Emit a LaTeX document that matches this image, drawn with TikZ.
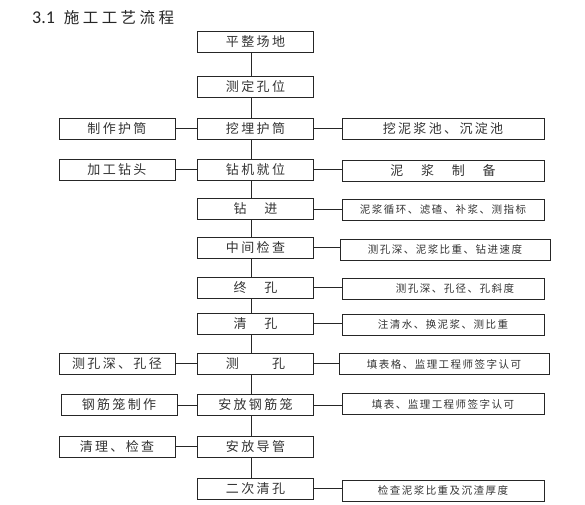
\documentclass[tikz,border=0pt]{standalone}
\usepackage{fontspec}
\setmainfont{Carlito}
\newfontfamily\cjk[LetterSpace=18]{Noto Sans CJK SC}
\newfontfamily\cjksm[LetterSpace=14]{Noto Sans CJK SC}
\newfontfamily\cjkwide[LetterSpace=22]{Noto Sans CJK SC}
\usetikzlibrary{calc}

\begin{document}
\begin{tikzpicture}[x=1pt, y=-1pt,
    box/.style={draw=black!85, line width=0.8pt, minimum height=21pt, inner sep=0pt, text=black!80},
    cbox/.style={box, minimum width=116pt, font=\cjk\fontsize{13}{13}\selectfont},
    rbox/.style={box, minimum width=202pt, font=\cjksm\fontsize{10.5}{10.5}\selectfont},
    rbig/.style={rbox, font=\cjk\fontsize{13}{13}\selectfont},
    link/.style={draw=black!85, line width=0.8pt}]
    \useasboundingbox (0,0) rectangle (585,504);

    % title
    \node (T) at (32,18) [anchor=west, inner sep=0pt, text=black!85] {\fontsize{18}{18}\selectfont 3.1\hspace{9pt}{\cjkwide\fontsize{15.5}{15.5}\selectfont 施工工艺流程}};

    % main column
    \node (M1) at (255.5,42) [cbox] {平整场地};
    \node (M2) at (255.5,87) [cbox] {测定孔位};
    \node (M3) at (255.5,128.5) [cbox] {挖埋护筒};
    \node (M4) at (255.5,169.5) [cbox] {钻机就位};
    \node (M5) at (255.5,209) [cbox] {钻　进};
    \node (M6) at (255.5,247.5) [cbox] {中间检查};
    \node (M7) at (255.5,287.5) [cbox] {终　孔};
    \node (M8) at (255.5,323.5) [cbox] {清　孔};
    \node (M9) at (255.5,363.5) [cbox] {测　　孔};
    \node (M10) at (255.5,405) [cbox] {安放钢筋笼};
    \node (M11) at (255.5,446.5) [cbox] {安放导管};
    \node (M12) at (255.5,488.5) [cbox] {二次清孔};

    % left column
    \node (L3) at (117,128.5) [cbox] {制作护筒};
    \node (L4) at (117,169.5) [cbox] {加工钻头};
    \node (L9) at (117,363.5) [cbox] {测孔深、孔径};
    \node (L10) at (119,405) [cbox] {钢筋笼制作};
    \node (L11) at (117,446.5) [cbox] {清理、检查};

    % right column
    \node (R3) at (443,128.5) [rbig] {挖泥浆池、沉淀池};
    \node (R4) at (443,170.5) [rbig] {泥　浆　制　备};
    \node (R5) at (443,209.5) [rbox] {泥浆循环、滤碴、补浆、测指标};
    \node (R6) at (445,249.5) [rbox, minimum width=210pt] {测孔深、泥浆比重、钻进速度};
    \node (R7) at (443,288.5) [rbox] {\hspace{24pt}测孔深、孔径、孔斜度};
    \node (R8) at (443,324.5) [rbox] {注清水、换泥浆、测比重};
    \node (R9) at (444,364) [rbox, minimum width=210pt] {填表格、监理工程师签字认可};
    \node (R10) at (443,404) [rbox] {填表、监理工程师签字认可};
    \node (R12) at (443,490.5) [rbox] {检查泥浆比重及沉渣厚度};

    % vertical links
    \foreach \a/\b in {M1/M2, M2/M3, M3/M4, M4/M5, M5/M6, M6/M7, M7/M8, M8/M9, M9/M10, M10/M11, M11/M12}
        \draw [link] ([xshift=-4pt]\a.south) -- ([xshift=-4pt]\b.north);

    % side links
    \foreach \a/\b in {L3/M3, L4/M4, L9/M9, L10/M10, L11/M11}
        \draw [link] (\a.east) -- (\b.west);
    \foreach \a/\b in {M3/R3, M4/R4, M5/R5, M6/R6, M7/R7, M8/R8, M9/R9, M10/R10, M12/R12}
        \draw [link] (\a.east) -- (\a.east -| \b.west);
\end{tikzpicture}
\end{document}
